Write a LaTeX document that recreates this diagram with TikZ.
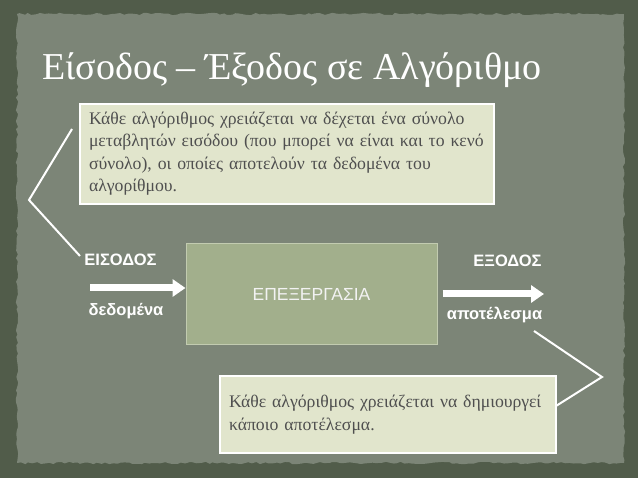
\documentclass[tikz,border=0pt]{standalone}
\usepackage{fontspec}
\setmainfont{Liberation Serif}
\newfontfamily\labelfont{Liberation Sans}
\usetikzlibrary{arrows.meta,decorations.pathmorphing}
\definecolor{outerbg}{HTML}{515C4A}
\definecolor{paper}{HTML}{7C8577}
\definecolor{notefill}{HTML}{E1E5CC}
\definecolor{notetext}{HTML}{4F4F4F}
\definecolor{procfill}{HTML}{A2AF8C}
\definecolor{procline}{HTML}{C2CBB0}
\begin{document}
\begin{tikzpicture}[x=1pt, y=-1pt,
  title/.style={text=white, font=\fontsize{38}{40}\selectfont},
  note/.style={fill=notefill, draw=white, line width=2pt, text=notetext, align=left,
    anchor=north west, inner sep=8pt, font=\fontsize{17.7}{22.5}\selectfont},
  procbox/.style={fill=procfill, draw=procline, line width=1pt,
    minimum width=251pt, minimum height=101pt},
  lbl/.style={text=white, anchor=base, inner sep=0pt, font=\labelfont\bfseries\fontsize{16.5}{18}\selectfont},
  bigarrow/.style={white, line width=7pt, -{Triangle[length=13pt,width=17pt]}},
  bracket/.style={white, line width=2pt}]
\useasboundingbox (0,0) rectangle (638,478);
\fill[outerbg] (0,0) rectangle (638,478);
\fill[paper, decorate, decoration={random steps, segment length=4pt, amplitude=1.2pt}]
  (17,14) rectangle (624,463);
\node[title] (head) at (292,70) {Είσοδος – Έξοδος σε Αλγόριθμο};
\node[note, minimum width=414pt, minimum height=97pt, text width=396pt] (innote) at (79,103)
  {Κάθε αλγόριθμος χρειάζεται να δέχεται ένα σύνολο\\
   μεταβλητών εισόδου (που μπορεί να είναι και το κενό\\
   σύνολο), οι οποίες αποτελούν τα δεδομένα του\\
   αλγορίθμου.};
\node[note, minimum width=336pt, minimum height=77pt, text width=318pt] (outnote) at (219,375)
  {Κάθε αλγόριθμος χρειάζεται να δημιουργεί\\
   κάποιο αποτέλεσμα.};
\node[procbox] (proc) at (311.5,294.5) {};
\node[text=white!95!black, anchor=base, inner sep=0pt, font=\labelfont\fontsize{17.5}{19}\selectfont] (proctxt) at (311.5,301) {ΕΠΕΞΕΡΓΑΣΙΑ};
\node[lbl] (inlbl) at (120.5,266) {ΕΙΣΟΔΟΣ};
\node[lbl] (indata) at (126,316) {δεδομένα};
\node[lbl] (outlbl) at (507.5,267) {ΕΞΟΔΟΣ};
\node[lbl] (outdata) at (494.5,320) {αποτέλεσμα};
\coordinate (instart) at (90,288);
\coordinate (outend) at (544,294);
\draw[bigarrow] (instart) -- (instart -| proc.west);
\draw[bigarrow] ([xshift=5pt]proc.east |- outend) -- (outend);
% brackets
\coordinate (lbtop) at (72,129);
\coordinate (lbtip) at (29,200);
\coordinate (lbbot) at (80,256);
\draw[bracket] (lbtop) -- (lbtip) -- (lbbot);
\coordinate (rbtop) at (534,331);
\coordinate (rbtip) at (602,377);
\coordinate (rbbot) at (556,406);
\draw[bracket] (rbtop) -- (rbtip) -- (rbbot);
\end{tikzpicture}
\end{document}
